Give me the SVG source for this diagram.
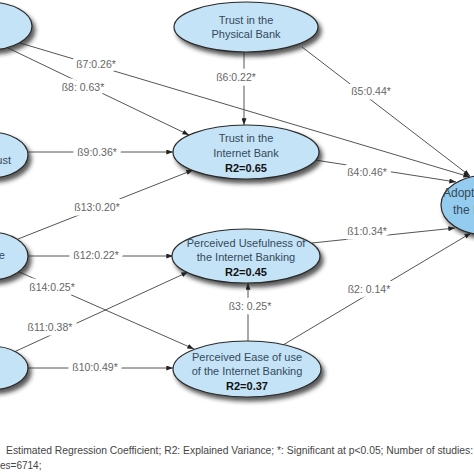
<svg xmlns="http://www.w3.org/2000/svg" width="474" height="474" viewBox="0 0 474 474">
<defs>
<filter id="sh" x="-20%" y="-20%" width="150%" height="160%">
<feDropShadow dx="3" dy="4" stdDeviation="2" flood-color="#222" flood-opacity="0.75"/>
</filter>
<marker id="ar" viewBox="0 0 8 6" refX="8" refY="3" markerWidth="7" markerHeight="5" markerUnits="userSpaceOnUse" orient="auto">
<path d="M0,0 L8,3 L0,6 z" fill="#222"/>
</marker>
</defs>
<style>
.n{fill:#c4e3f6;stroke:#2a2a2a;stroke-width:1.2;filter:url(#sh)}
.a{fill:#93ccee}
.t{font-family:"Liberation Sans",Arial,sans-serif;font-size:11px;fill:#34495a;text-anchor:middle}
.b{font-weight:bold;fill:#111}
.c line{stroke:#555;stroke-width:1;marker-end:url(#ar)}
.l{font-family:"Liberation Sans",Arial,sans-serif;font-size:10.5px;fill:#666;text-anchor:middle;stroke:#fff;stroke-width:9;stroke-linejoin:round;paint-order:stroke}
.f{font-family:"Liberation Sans",Arial,sans-serif;font-size:10px;fill:#444}
</style>
<rect width="474" height="474" fill="#fff"/>
<g id="connectors" class="c">
<line x1="20" y1="43" x2="470" y2="177"/>
<line x1="8" y1="48" x2="189" y2="135"/>
<line x1="244" y1="52" x2="244" y2="125"/>
<line x1="302" y1="47" x2="470" y2="176"/>
<line x1="28" y1="152" x2="173" y2="152"/>
<line x1="315" y1="160" x2="456" y2="182"/>
<line x1="18" y1="239" x2="193" y2="170"/>
<line x1="28" y1="256" x2="173" y2="256"/>
<line x1="312" y1="243" x2="455" y2="228"/>
<line x1="17" y1="271" x2="194" y2="349"/>
<line x1="248" y1="341" x2="248" y2="283"/>
<line x1="283" y1="345" x2="471" y2="233"/>
<line x1="14" y1="352" x2="188" y2="272"/>
<line x1="28" y1="368" x2="173" y2="368"/>
</g>
<g id="labels">
<text class="l" x="96" y="68">ß7:0.26*</text>
<text class="l" x="83" y="91">ß8: 0.63*</text>
<text class="l" x="236" y="81">ß6:0.22*</text>
<text class="l" x="371" y="95">ß5:0.44*</text>
<text class="l" x="97" y="156">ß9:0.36*</text>
<text class="l" x="367" y="176">ß4:0.46*</text>
<text class="l" x="97" y="211">ß13:0.20*</text>
<text class="l" x="96" y="259">ß12:0.22*</text>
<text class="l" x="367" y="235">ß1:0.34*</text>
<text class="l" x="52" y="291">ß14:0.25*</text>
<text class="l" x="250" y="310">ß3: 0.25*</text>
<text class="l" x="369" y="293">ß2: 0.14*</text>
<text class="l" x="50" y="331">ß11:0.38*</text>
<text class="l" x="95" y="371">ß10:0.49*</text>
</g>
<g id="nodeA"><ellipse class="n" cx="-12" cy="26" rx="44" ry="24"/></g>
<g id="nodeB"><ellipse class="n" cx="-10" cy="155" rx="38" ry="23"/>
<text class="t" x="11" y="164" style="text-anchor:end">Trust</text></g>
<g id="nodeC"><ellipse class="n" cx="-10" cy="256" rx="38" ry="24"/>
<text class="t" x="5" y="259" style="text-anchor:end">Influence</text></g>
<g id="nodeD"><ellipse class="n" cx="-10" cy="368" rx="38" ry="22"/></g>
<g id="physical"><ellipse class="n" cx="246" cy="27" rx="72" ry="25"/>
<text class="t" x="246" y="24">Trust in the</text>
<text class="t" x="246" y="38">Physical Bank</text></g>
<g id="internetbank"><ellipse class="n" cx="246" cy="152" rx="73" ry="27"/>
<text class="t" x="246" y="142">Trust in the</text>
<text class="t" x="246" y="157">Internet Bank</text>
<text class="t b" x="246" y="172">R2=0.65</text></g>
<g id="usefulness"><ellipse class="n" cx="246" cy="256" rx="74" ry="27"/>
<text class="t" x="246" y="247">Perceived Usefulness of</text>
<text class="t" x="246" y="261">the Internet Banking</text>
<text class="t b" x="246" y="276">R2=0.45</text></g>
<g id="ease"><ellipse class="n" cx="247" cy="369" rx="74" ry="28"/>
<text class="t" x="247" y="361">Perceived Ease of use</text>
<text class="t" x="247" y="375">of the Internet Banking</text>
<text class="t b" x="247" y="390">R2=0.37</text></g>
<g id="adoption"><ellipse class="n a" cx="487" cy="205" rx="46" ry="30"/>
<text class="t" x="443" y="197" style="text-anchor:start;font-size:12px">Adoption of</text>
<text class="t" x="453" y="214" style="text-anchor:start;font-size:12px">the Internet Banking</text></g>
<g id="footnote">
<text class="f" x="6" y="454" textLength="467" lengthAdjust="spacingAndGlyphs">Estimated Regression Coefficient; R2: Explained Variance; *: Significant at p&lt;0.05; Number of studies:</text>
<text class="f" x="0" y="469">es=6714;</text>
</g>
</svg>
